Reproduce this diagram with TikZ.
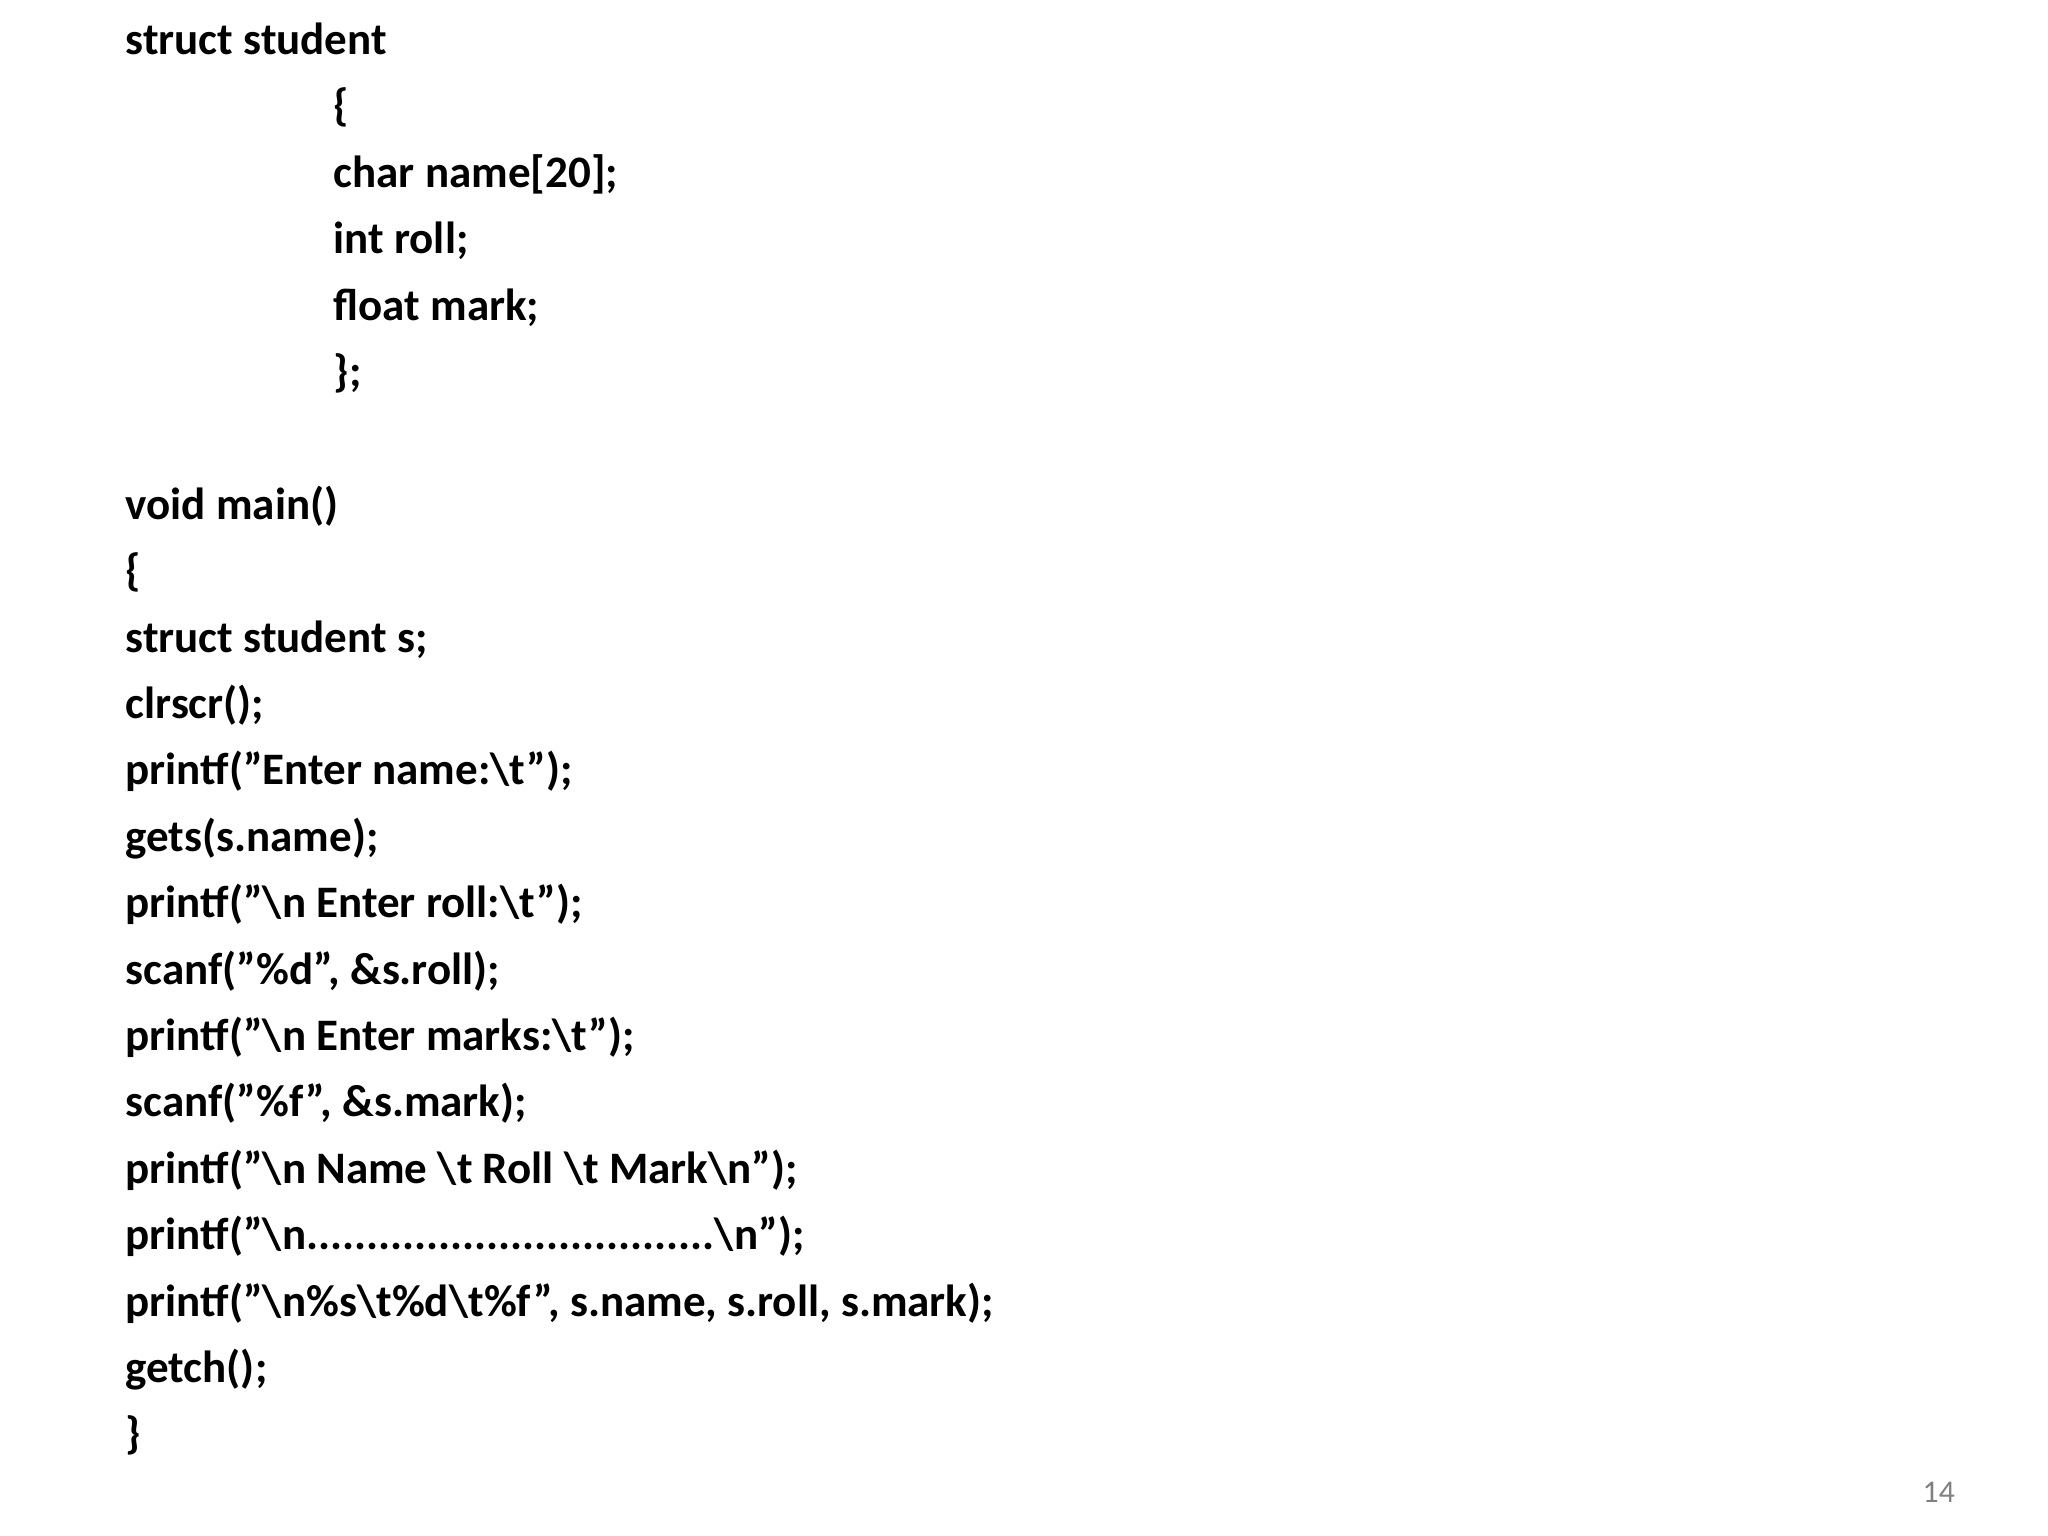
\documentclass[tikz,border=0pt]{standalone}
\usepackage{fontspec}
\setmainfont{Carlito}
\begin{document}
\begin{tikzpicture}[x=0.01cm,y=-0.01cm,
  code/.style={anchor=base west,inner sep=0pt,font=\bfseries\fontsize{12.8}{14}\selectfont}]
\useasboundingbox (0,0) rectangle (2048,1536);
\def\bl#1{54.5+66.4*#1}
\node[code] (l0) at (125,{\bl{0}}) {struct student};
\node[code] (l1) at (333,{\bl{1}}) {\{};
\node[code] (l2) at (333,{\bl{2}}) {char name[20];};
\node[code] (l3) at (333,{\bl{3}}) {int roll;};
\node[code] (l4) at (333,{\bl{4}}) {float mark;};
\node[code] (l5) at (333,{\bl{5}}) {\};};
\node[code] (l7) at (125,{\bl{7}}) {void main()};
\node[code] (l8) at (125,{\bl{8}}) {\{};
\node[code] (l9) at (125,{\bl{9}}) {struct student s;};
\node[code] (l10) at (125,{\bl{10}}) {clrscr();};
\node[code] (l11) at (125,{\bl{11}}) {printf("Enter name:\textbackslash t");};
\node[code] (l12) at (125,{\bl{12}}) {gets(s.name);};
\node[code] (l13) at (125,{\bl{13}}) {printf("\textbackslash n Enter roll:\textbackslash t");};
\node[code] (l14) at (125,{\bl{14}}) {scanf("\%d", \&s.roll);};
\node[code] (l15) at (125,{\bl{15}}) {printf("\textbackslash n Enter marks:\textbackslash t");};
\node[code] (l16) at (125,{\bl{16}}) {scanf("\%f", \&s.mark);};
\node[code] (l17) at (125,{\bl{17}}) {printf("\textbackslash n Name \textbackslash t Roll \textbackslash t Mark\textbackslash n");};
\node[code] (l18) at (125,{\bl{18}}) {printf("\textbackslash n..................................\textbackslash n");};
\node[code] (l19) at (125,{\bl{19}}) {printf("\textbackslash n\%s\textbackslash t\%d\textbackslash t\%f", s.name, s.roll, s.mark);};
\node[code] (l20) at (125,{\bl{20}}) {getch();};
\node[code] (l21) at (125,{\bl{21}}) {\}};
\node[anchor=base west,inner sep=0pt,text=gray,font=\fontsize{9}{10}\selectfont] (pg) at (1922,1502) {14};
\end{tikzpicture}
\end{document}
